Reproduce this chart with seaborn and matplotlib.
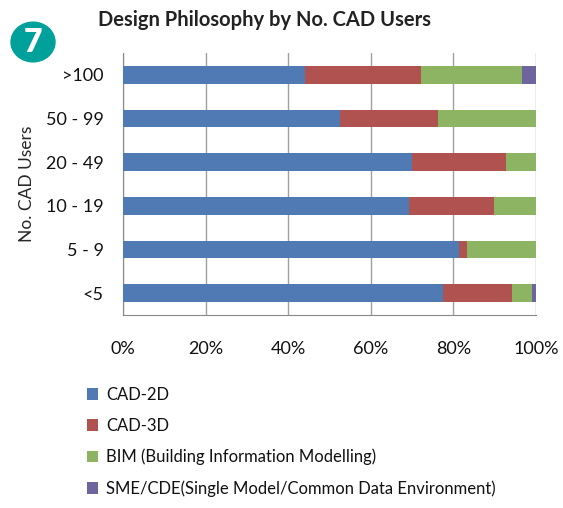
import matplotlib
matplotlib.use("Agg")
import matplotlib.pyplot as plt
import seaborn as sns
import pandas as pd
import numpy as np
from matplotlib.patches import Patch, Circle

# Dados
groups = [">100", "50 - 99", "20 - 49", "10 - 19", "5 - 9", "<5"]
series = ["CAD-2D", "CAD-3D", "BIM (Building Information Modelling)",
          "SME/CDE(Single Model/Common Data Environment)"]
cad_2d = [44.0, 52.5, 70.0, 69.3, 81.4, 77.6]
cad_3d = [28.2, 23.8, 22.7, 20.5, 1.8, 16.6]
bim = [24.4, 23.7, 7.3, 10.2, 16.8, 4.9]
sme_cde = [3.4, 0.0, 0.0, 0.0, 0.0, 0.9]
colors = ["#4F7AB3", "#B05250", "#8CB463", "#6E659F"]

sns.set_style("white")
plt.rcParams["font.family"] = ["Lato", "DejaVu Sans"]
plt.rcParams["text.color"] = "#111111"
plt.rcParams["xtick.color"] = "#111111"
plt.rcParams["ytick.color"] = "#111111"

df = pd.DataFrame({"group": groups, series[0]: cad_2d, series[1]: cad_3d,
                   series[2]: bim, series[3]: sme_cde})
cum = df[series].cumsum(axis=1)

fig = plt.figure(figsize=(5.63, 5.08), dpi=100)
ax = fig.add_axes([0.2185, 0.380, 0.7335, 0.5155])

# barras empilhadas: desenhar do maior acumulado para o menor
for s, c in reversed(list(zip(series, colors))):
    sns.barplot(x=cum[s], y=df["group"], color=c, width=0.4, ax=ax,
                orient="h", saturation=1, linewidth=0, zorder=3)

ax.set_xlim(0, 100)
ax.set_ylim(5.5, -0.5)
ax.set_xticks([0, 20, 40, 60, 80, 100])
ax.set_xticklabels([f"{v}%" for v in [0, 20, 40, 60, 80, 100]], fontsize=13)
ax.set_yticks(range(len(groups)))
ax.set_yticklabels(groups, fontsize=13)
ax.set_yticks(np.arange(-0.5, 6, 1), minor=True)
ax.tick_params(axis="y", which="major", length=0, pad=14)
ax.tick_params(axis="y", which="minor", length=5, color="#888888", direction="out")
ax.tick_params(axis="x", length=5, color="#888888", direction="out", pad=14)
ax.grid(axis="x", color="#A0A0A0", linewidth=1, zorder=0)
ax.set_axisbelow(True)
for side in ["top", "right"]:
    ax.spines[side].set_visible(False)
for side in ["left", "bottom"]:
    ax.spines[side].set_color("#888888")
ax.set_xlabel("")
ax.set_ylabel("No. CAD Users", fontsize=12.5, labelpad=8)

fig.text(264 / 563, 1 - 20 / 508, "Design Philosophy by No. CAD Users",
         ha="center", va="center", fontsize=14.5, fontweight="bold",
         color="#222222")

# selo numerado
badge = Circle((33 / 563, 1 - 42 / 508), 22 / 563, transform=fig.transFigure,
               color="#00A19A", zorder=5)
fig.patches.append(badge)
fig.text(33 / 563, 1 - 42 / 508, "7", ha="center", va="center", fontsize=23,
         fontweight="heavy", color="white", zorder=6)

handles = [Patch(facecolor=c, edgecolor="none") for c in colors]
fig.legend(handles, series, loc="upper left", bbox_to_anchor=(0.142, 0.252),
           frameon=False, fontsize=12, handlelength=0.7, handleheight=0.7,
           handletextpad=0.45, labelspacing=0.9, borderaxespad=0)

fig.savefig("out.png", dpi=100)
